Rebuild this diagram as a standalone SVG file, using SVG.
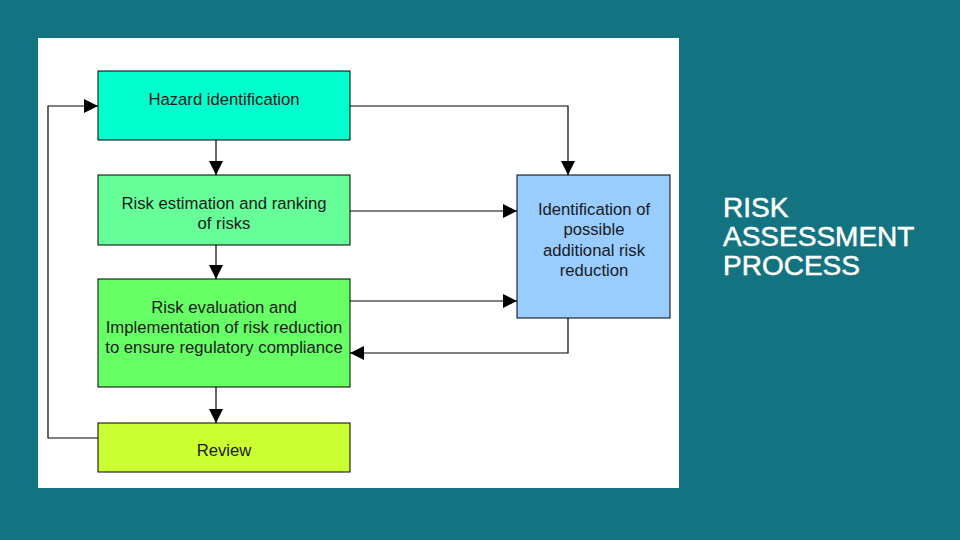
<svg xmlns="http://www.w3.org/2000/svg" width="960" height="540" viewBox="0 0 960 540">
<defs>
<style>
.box{stroke:#000;stroke-width:1}
.t{font-family:"Liberation Sans",Arial,sans-serif;font-size:16.7px;fill:#1a1a1a;text-anchor:middle}
.c{fill:none;stroke:#000;stroke-width:1.2}
.title{font-family:"Liberation Sans",Arial,sans-serif;font-size:28px;fill:#fff;stroke:#fff;stroke-width:0.5}
</style>
<marker id="ah" viewBox="0 0 10 10" refX="10" refY="5" markerWidth="14" markerHeight="14" markerUnits="userSpaceOnUse" orient="auto">
<path d="M0,0 L10,5 L0,10 z" fill="#000"/>
</marker>
</defs>
<rect width="960" height="540" fill="#137380"/>
<rect x="38" y="38" width="641" height="450" fill="#fff"/>
<g id="connectors">
<path class="c" d="M350,106 H568 V175" marker-end="url(#ah)"/>
<path class="c" d="M216,140 V175" marker-end="url(#ah)"/>
<path class="c" d="M350,211 H517" marker-end="url(#ah)"/>
<path class="c" d="M216,245 V279" marker-end="url(#ah)"/>
<path class="c" d="M350,301 H517" marker-end="url(#ah)"/>
<path class="c" d="M568,318 V353 H350" marker-end="url(#ah)"/>
<path class="c" d="M216,387 V423" marker-end="url(#ah)"/>
<path class="c" d="M98,438 H48 V106 H98" marker-end="url(#ah)"/>
</g>
<g id="hazard">
<rect class="box" x="98" y="71" width="252" height="69" fill="#00FFCC"/>
<text class="t" x="224" y="105">Hazard identification</text>
</g>
<g id="estimation">
<rect class="box" x="98" y="175" width="252" height="70" fill="#66FF99"/>
<text class="t" x="224" y="209">Risk estimation and ranking</text>
<text class="t" x="224" y="229">of risks</text>
</g>
<g id="evaluation">
<rect class="box" x="98" y="279" width="252" height="108" fill="#66FF66"/>
<text class="t" x="224" y="313">Risk evaluation and</text>
<text class="t" x="224" y="333">Implementation of risk reduction</text>
<text class="t" x="224" y="353">to ensure regulatory compliance</text>
</g>
<g id="review">
<rect class="box" x="98" y="423" width="252" height="49" fill="#CCFF33"/>
<text class="t" x="224" y="456">Review</text>
</g>
<g id="reduction">
<rect class="box" x="517" y="175" width="153" height="143" fill="#99CCFF"/>
<text class="t" x="594" y="215">Identification of</text>
<text class="t" x="594" y="235">possible</text>
<text class="t" x="594" y="256">additional risk</text>
<text class="t" x="594" y="276">reduction</text>
</g>
<g id="title">
<text class="title" x="723" y="217">RISK</text>
<text class="title" x="723" y="246">ASSESSMENT</text>
<text class="title" x="723" y="275">PROCESS</text>
</g>
</svg>
